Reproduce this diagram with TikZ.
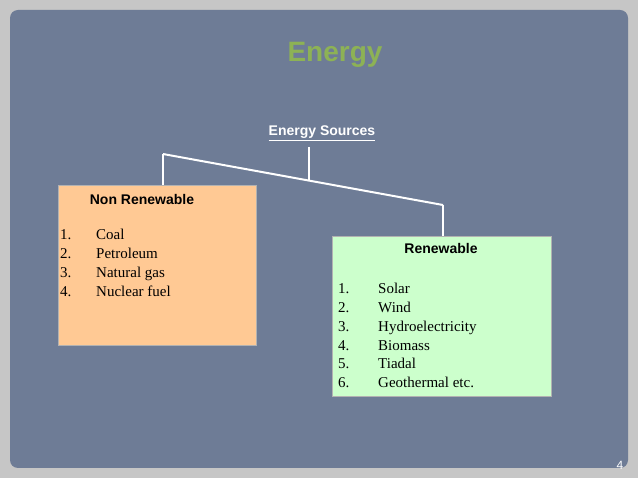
\documentclass[tikz,border=0pt]{standalone}
\usepackage{fontspec}
\setmainfont{Liberation Serif}
\setsansfont{Liberation Sans}
\begin{document}
\begin{tikzpicture}[x=1pt,y=-1pt,
  lst/.style={anchor=base west,font=\fontsize{15}{17}\selectfont,text=black,inner sep=0},
  conn/.style={draw=white,line width=2pt},
  hd/.style={font=\sffamily\bfseries\fontsize{14}{16}\selectfont}]
\useasboundingbox (0,0) rectangle (638,478);
\fill[gray!45!white] (0,0) rectangle (638,478);
\fill[rounded corners=8pt,fill={rgb,255:red,110;green,124;blue,150}] (10,10) rectangle (628,468);
\node[font=\sffamily\bfseries\fontsize{28}{30}\selectfont,text={rgb,255:red,141;green,178;blue,85}] (title) at (335,55) {Energy};
\node[hd,text=white] (src) at (322,133) {\underline{Energy Sources}};
\coordinate (mtop) at (309,147);
\coordinate (mbot) at (309,180);
\coordinate (lt) at (163,154);
\coordinate (rt) at (443,205);
\draw[conn] (mtop) -- (mbot);
\draw[conn] (lt) -- (rt);
\node[draw=gray!60,fill={rgb,255:red,255;green,201;blue,148},minimum width=198pt,minimum height=160pt,anchor=north west,inner sep=0] (nr) at (58,185) {};
\node[draw=gray!60,fill={rgb,255:red,204;green,255;blue,204},minimum width=219pt,minimum height=160pt,anchor=north west,inner sep=0] (rn) at (332,236) {};
\draw[conn] (lt) -- (nr.north -| lt);
\draw[conn] (rt) -- (rn.north -| rt);
\node[hd] (nrt) at (142,199) {Non Renewable};
\foreach \i/\t [count=\k] in {1/Coal,2/Petroleum,3/Natural gas,4/Nuclear fuel}{
  \node[lst] (n\k) at (60,{240+18.7*(\k-1)}) {\i.};
  \node[lst] (nt\k) at (96,{240+18.7*(\k-1)}) {\t};
}
\node[hd] (rnt) at (441,248) {Renewable};
\foreach \i/\t [count=\k] in {1/Solar,2/Wind,3/Hydroelectricity,4/Biomass,5/Tiadal,6/Geothermal etc.}{
  \node[lst] (r\k) at (338,{294+18.7*(\k-1)}) {\i.};
  \node[lst] (rt\k) at (378,{294+18.7*(\k-1)}) {\t};
}
\node[font=\sffamily\fontsize{12}{13}\selectfont,text=white] (pg) at (620,465) {4};
\end{tikzpicture}
\end{document}
